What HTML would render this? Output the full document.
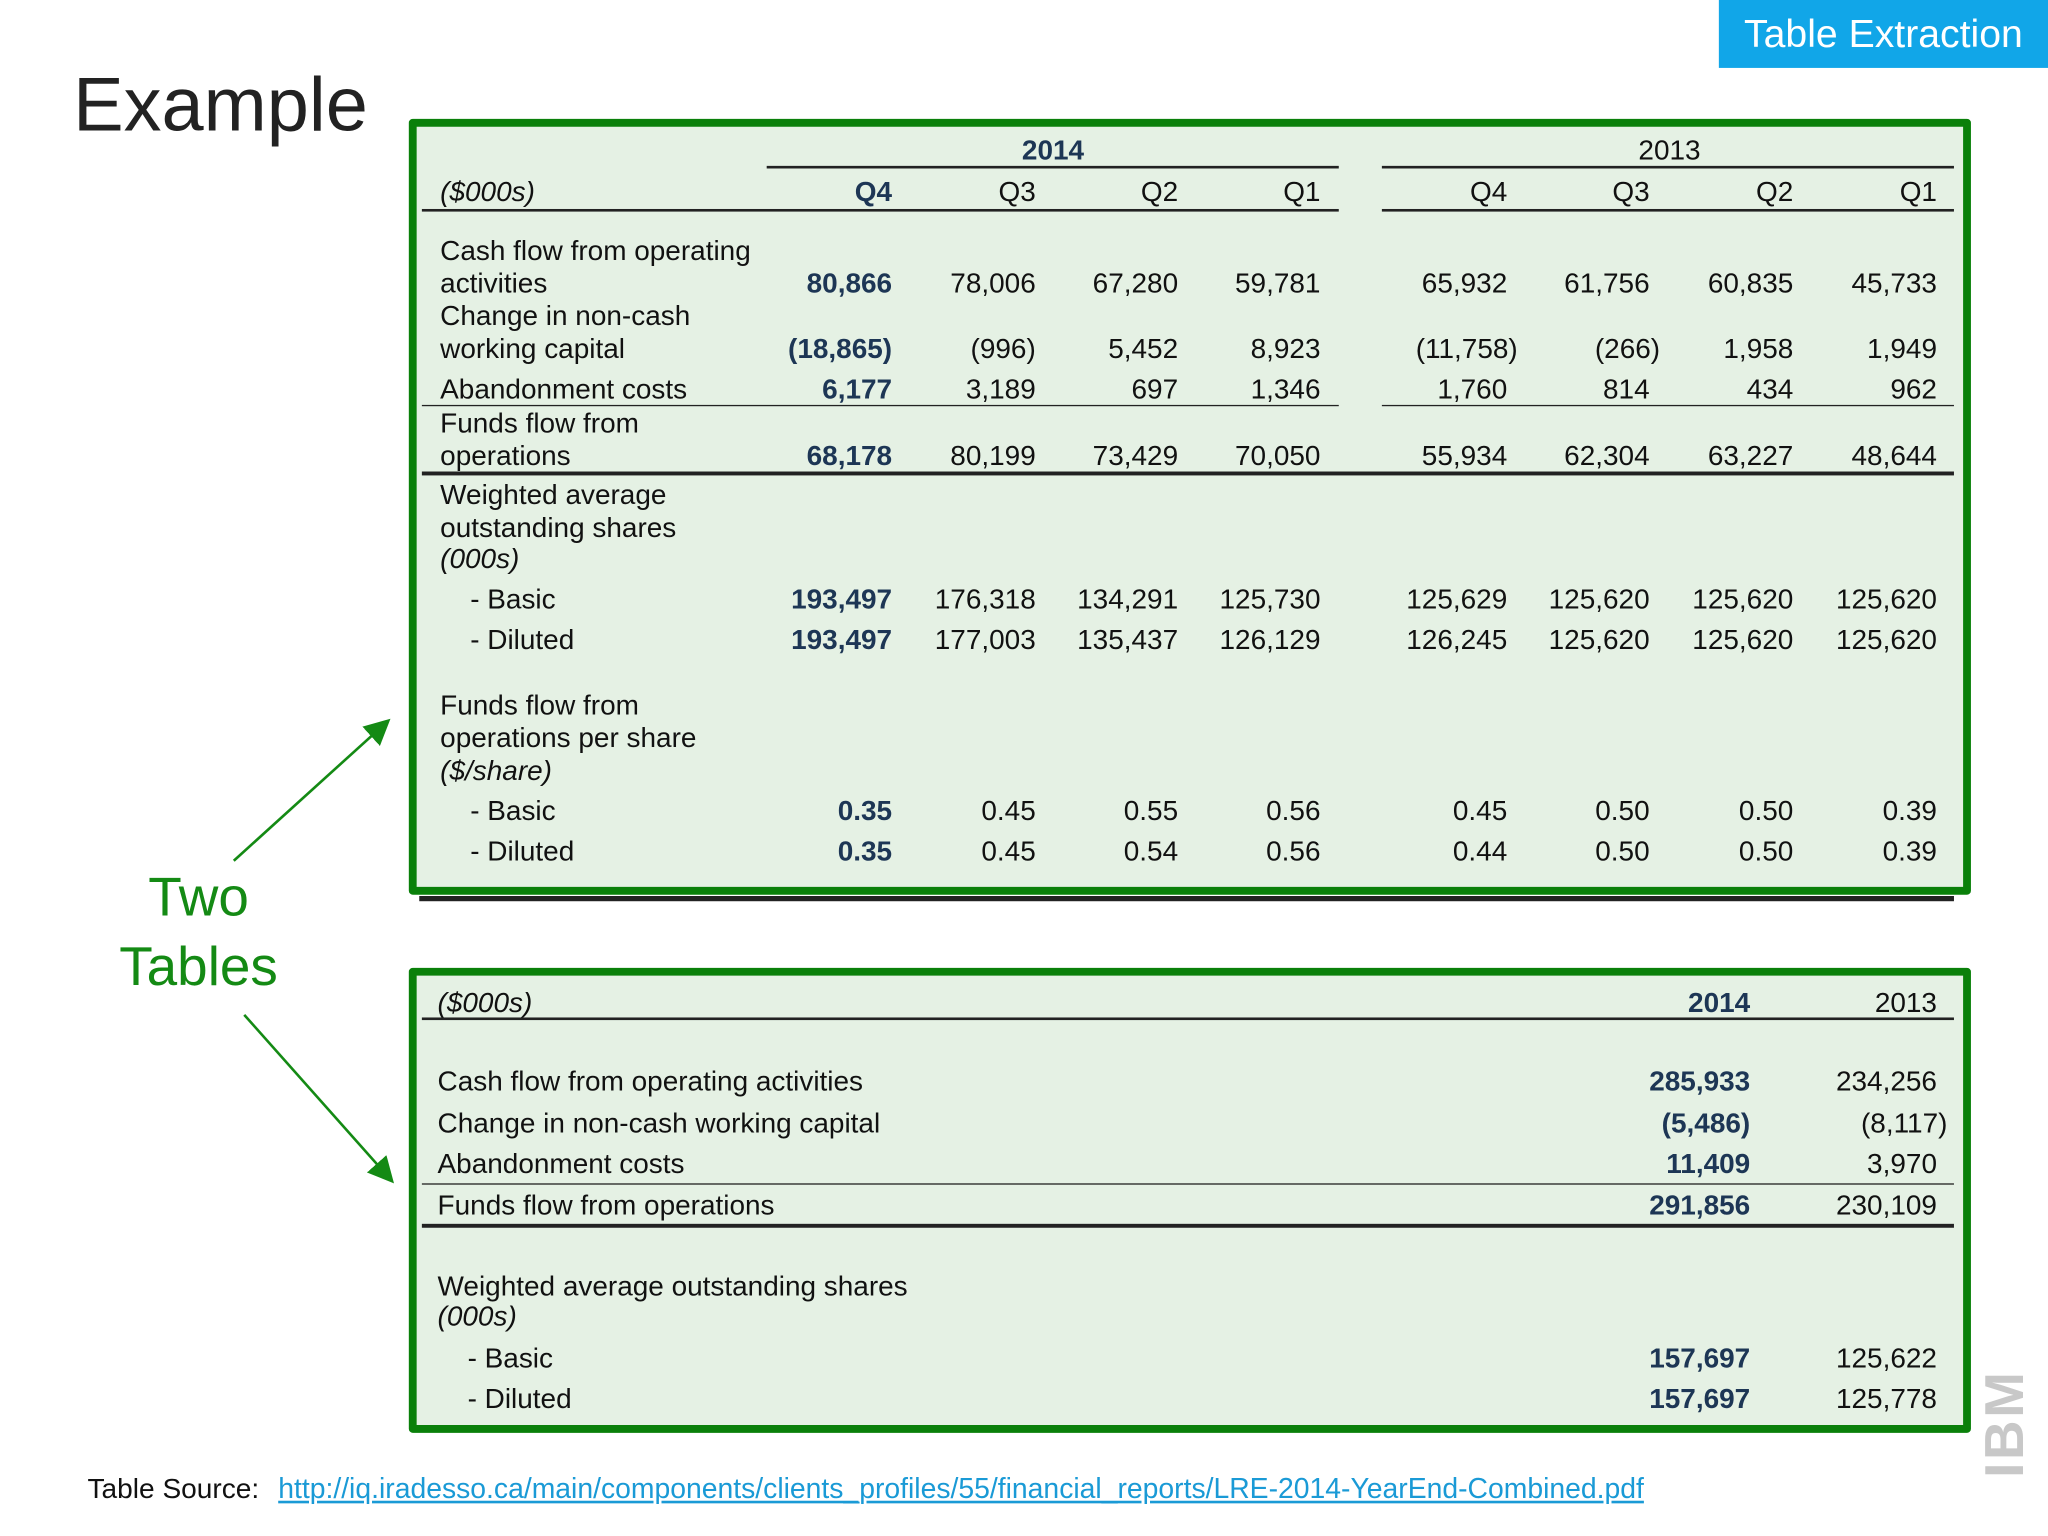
<!DOCTYPE html>
<html><head><meta charset="utf-8"><style>
html,body{margin:0;padding:0;background:#fff;}
#root{position:relative;width:1568px;height:1176px;transform:scale(1.306122);transform-origin:0 0;font-family:"Liberation Sans",sans-serif;color:#111;overflow:hidden}
.a{position:absolute;white-space:nowrap;line-height:24px;font-size:21.4px}
.r{text-align:right}
.b{font-weight:bold;color:#1d3655}
.i{font-style:italic}
.ln{position:absolute;background:#222}
.box{position:absolute;border:6px solid #0a800a;background:#e5f1e4;box-sizing:border-box;border-radius:3px}
</style></head><body>
<div id="root">
<div class="a" style="left:56px;top:48px;font-size:58px;line-height:66px;color:#222">Example</div>
<div style="position:absolute;left:1316px;top:0;width:252px;height:52px;background:#11a6e8;color:#fff;font-size:30px;line-height:54px;text-align:center">Table Extraction</div>
<div class="box" style="left:313px;top:91px;width:1196px;height:594px"></div>
<div class="ln" style="left:321px;top:686px;width:1175px;height:4px"></div>
<div class="box" style="left:313px;top:741px;width:1196px;height:356px"></div>
<div class="a" style="left:60px;top:660px;width:184px;text-align:center;font-size:42px;line-height:53px;color:#148a14">Two<br>Tables</div>
<svg style="position:absolute;left:0;top:0" width="1568" height="1176">
<defs><marker id="ah" markerWidth="10" markerHeight="10" refX="8" refY="5" orient="auto"><path d="M0,0 L10,5 L0,10 z" fill="#148a14"/></marker></defs>
<line x1="179" y1="659" x2="296" y2="553" stroke="#148a14" stroke-width="2" marker-end="url(#ah)"/>
<line x1="187" y1="777" x2="299" y2="903" stroke="#148a14" stroke-width="2" marker-end="url(#ah)"/>
</svg>
<div class="a" style="left:67px;top:1128px;font-size:21.5px">Table Source:</div>
<div class="a" style="left:213px;top:1128px;font-size:21.7px;color:#1a9ad6;text-decoration:underline">http://iq.iradesso.ca/main/components/clients_profiles/55/financial_reports/LRE-2014-YearEnd-Combined.pdf</div>
<div class="a" style="left:1485px;top:1070px;font-size:42px;line-height:40px;font-weight:bold;color:#c8c8c8;transform:rotate(-90deg);transform-origin:center;width:100px;text-align:center;letter-spacing:2px">IBM</div>
</div>
<script>
const root=document.getElementById('root');
function t(txt,x,y,cls,name,right){const d=document.createElement('div');d.className='a '+(cls||'');d.textContent=txt;


if(right){d.style.left=(x-200)+'px';d.style.width='200px';d.classList.add('r');}else d.style.left=x+'px';
d.style.top=(y-12)+'px';root.appendChild(d);}
function l(x,y,w,h,name){const d=document.createElement('div');d.className='ln';d.style.cssText=`left:${x}px;top:${y}px;width:${w}px;height:${h}px`;


root.appendChild(d);}
// Table 1
const quarters=['Q4','Q3','Q2','Q1','Q4','Q3','Q2','Q1'];
const colR=[683,793,902,1011,1154,1263,1373,1483];
const t1Rows=[
 {label:['Cash flow from operating','activities'],y:217,vals:['80,866','78,006','67,280','59,781','65,932','61,756','60,835','45,733']},
 {label:['Change in non-cash','working capital'],y:267,vals:['(18,865)','(996)','5,452','8,923','(11,758)','(266)','1,958','1,949']},
 {label:['Abandonment costs'],y:298,vals:['6,177','3,189','697','1,346','1,760','814','434','962']},
 {label:['Funds flow from','operations'],y:349,vals:['68,178','80,199','73,429','70,050','55,934','62,304','63,227','48,644']},
 {label:['- Basic'],sub:1,y:459,vals:['193,497','176,318','134,291','125,730','125,629','125,620','125,620','125,620']},
 {label:['- Diluted'],sub:1,y:490,vals:['193,497','177,003','135,437','126,129','126,245','125,620','125,620','125,620']},
 {label:['- Basic'],sub:1,y:621,vals:['0.35','0.45','0.55','0.56','0.45','0.50','0.50','0.39']},
 {label:['- Diluted'],sub:1,y:652,vals:['0.35','0.45','0.54','0.56','0.44','0.50','0.50','0.39']}];
t('2014',830,115,'b','year-2014-header',true);
t('2013',1302,115,'','year-2013-header',true);
t('($000s)',337,147,'i','units-label');
quarters.forEach((q,i)=>t(q,colR[i],147,i==0?'b':'','header-'+q.toLowerCase()+'-'+(i<4?2014:2013),true));
l(587,127,438,2,'rule-2014');l(1058,127,438,2,'rule-2013');
l(323,160,702,2,'header-rule-left');l(1058,160,438,2,'header-rule-right');
l(323,310,702,1,'subtotal-rule-left');l(1058,310,438,1,'subtotal-rule-right');
l(323,361,1173,3,'total-rule');
t('Weighted average',337,379,'','label-weighted-avg');t('outstanding shares',337,404,'','label-weighted-avg-2');t('(000s)',337,428,'i','label-000s');
t('Funds flow from',337,540,'','label-ffo-share');t('operations per share',337,565,'','label-ffo-share-2');t('($/share)',337,590,'i','label-per-share');
t1Rows.forEach((r,ri)=>{
 r.label.forEach((s,k)=>t(s,r.sub?360:337,r.y-(r.label.length-1-k)*25,'','t1-label-'+ri+'-'+k));
 r.vals.forEach((v,i)=>t(v,colR[i]+(v[0]=='('&&i>=4?8:0),r.y,i==0?'b':'','t1-cell-'+ri+'-'+i,true));
});
// Table 2
const t2Years=['2014','2013'];
const t2ColR=[1340,1483];
const t2Rows=[
 {label:'Cash flow from operating activities',y:828,vals:['285,933','234,256']},
 {label:'Change in non-cash working capital',y:860,vals:['(5,486)','(8,117)']},
 {label:'Abandonment costs',y:891,vals:['11,409','3,970']},
 {label:'Funds flow from operations',y:923,vals:['291,856','230,109']},
 {label:'- Basic',sub:1,y:1040,vals:['157,697','125,622']},
 {label:'- Diluted',sub:1,y:1071,vals:['157,697','125,778']}];
t('($000s)',335,768,'i','t2-units-label');
t2Years.forEach((y,i)=>t(y,t2ColR[i],768,i==0?'b':'','t2-header-'+y,true));
l(323,779,1173,2,'t2-header-rule');
l(323,906,1173,1,'t2-subtotal-rule');
l(323,937,1173,3,'t2-total-rule');
t('Weighted average outstanding shares',335,985,'','t2-label-weighted');t('(000s)',335,1008,'i','t2-label-000s');
t2Rows.forEach((r,ri)=>{
 t(r.label,r.sub?358:335,r.y,'','t2-label-'+ri);
 r.vals.forEach((v,i)=>t(v,t2ColR[i]+(v[0]=='('&&i==1?8:0),r.y,i==0?'b':'','t2-cell-'+ri+'-'+i,true));
});
</script>
</body></html>
